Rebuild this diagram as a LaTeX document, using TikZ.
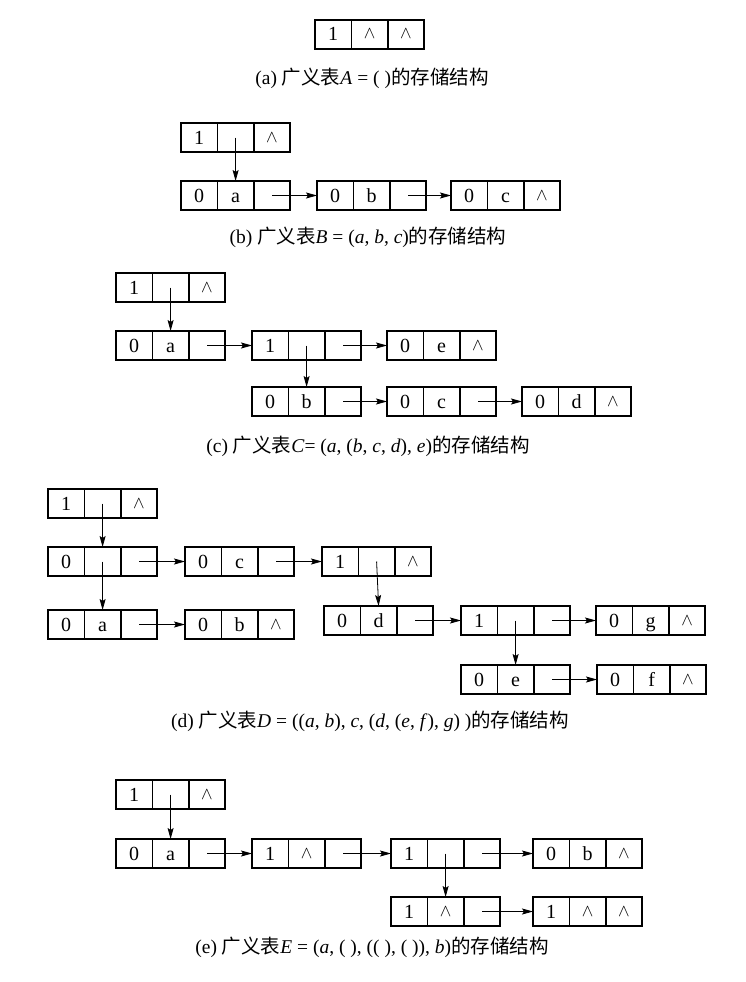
\documentclass[tikz,border=0pt]{standalone}
\usepackage{fontspec}
\setmainfont{Liberation Serif}
\newfontfamily\cjk{Noto Sans CJK SC}
\usetikzlibrary{positioning,arrows.meta}

% empty pointer sign
\newcommand{\NIL}{\raisebox{2pt}{\fontsize{18}{18}\selectfont$\wedge$}}
% one list node: name, left, top, tag, head, tail
\newcommand{\glnode}[6]{%
  \node[cell,anchor=north west] (#1t) at (#2,#3) {#4};
  \node[cell,right=0pt of #1t] (#1m) {#5};
  \node[cell,right=0pt of #1m] (#1n) {#6};}

\tikzset{
  cell/.style={draw,line width=1.6pt,minimum width=36.4pt,minimum height=29pt,
    inner sep=0pt,outer sep=0pt,text height=13pt,text depth=0pt,
    font=\fontsize{20}{20}\selectfont},
  ptr/.style={line width=0.8pt,-{Stealth[length=11pt,width=6pt,inset=2pt]}},
  figcap/.style={font=\fontsize{19.5}{19.5}\selectfont,inner sep=0pt}
}

\begin{document}
\begin{tikzpicture}[x=1pt,y=1pt,yscale=-1,xscale=1]
\useasboundingbox (0,0) rectangle (746,982);

%Shape: List A
\glnode{A}{315}{20}{1}{\NIL}{\NIL}
% Text Node
\node[figcap] (capA) at (372,78) {(a) {\cjk 广义表}\textit{A} = ( ){\cjk 的存储结构}};

%Shape: List B
\glnode{B0}{181}{123}{1}{}{\NIL}
\glnode{B1}{181}{181}{0}{a}{}
\glnode{B2}{317}{181}{0}{b}{}
\glnode{B3}{451}{181}{0}{c}{\NIL}
\draw[ptr] (B0m.center) -- (B1m.north);
\draw[ptr] (B1n.center) -- (B2t.west);
\draw[ptr] (B2n.center) -- (B3t.west);
% Text Node
\node[figcap] (capB) at (368,237) {(b) {\cjk 广义表}\textit{B} = (\textit{a}, \textit{b}, \textit{c}){\cjk 的存储结构}};

%Shape: List C
\glnode{C0}{116}{273}{1}{}{\NIL}
\glnode{C1}{116}{331}{0}{a}{}
\glnode{C2}{252}{331}{1}{}{}
\glnode{C3}{387}{331}{0}{e}{\NIL}
\glnode{C4}{252}{387}{0}{b}{}
\glnode{C5}{387}{387}{0}{c}{}
\glnode{C6}{522}{387}{0}{d}{\NIL}
\draw[ptr] (C0m.center) -- (C1m.north);
\draw[ptr] (C1n.center) -- (C2t.west);
\draw[ptr] (C2n.center) -- (C3t.west);
\draw[ptr] (C2m.center) -- (C4m.north);
\draw[ptr] (C4n.center) -- (C5t.west);
\draw[ptr] (C5n.center) -- (C6t.west);
% Text Node
\node[figcap] (capC) at (368,446) {(c) {\cjk 广义表}\textit{C}= (\textit{a}, (\textit{b}, \textit{c}, \textit{d}), \textit{e}){\cjk 的存储结构}};

%Shape: List D
\glnode{D0}{48}{489}{1}{}{\NIL}
\glnode{D1}{48}{547}{0}{}{}
\glnode{D2}{185}{547}{0}{c}{}
\glnode{D3}{322}{547}{1}{}{\NIL}
\glnode{D5}{48}{610}{0}{a}{}
\glnode{D6}{185}{610}{0}{b}{\NIL}
\glnode{D4}{324}{606}{0}{d}{}
\glnode{D7}{461}{606}{1}{}{}
\glnode{D8}{596}{606}{0}{g}{\NIL}
\glnode{D9}{461}{665}{0}{e}{}
\glnode{D10}{597}{665}{0}{f}{\NIL}
\draw[ptr] (D0m.center) -- (D1m.north);
\draw[ptr] (D1n.center) -- (D2t.west);
\draw[ptr] (D2n.center) -- (D3t.west);
\draw[ptr] (D1m.center) -- (D5m.north);
\draw[ptr] (D5n.center) -- (D6t.west);
\draw[ptr] (D3m.center) -- (D4m.north);
\draw[ptr] (D4n.center) -- (D7t.west);
\draw[ptr] (D7n.center) -- (D8t.west);
\draw[ptr] (D7m.center) -- (D9m.north);
\draw[ptr] (D9n.center) -- (D10t.west);
% Text Node
\node[figcap] (capD) at (370,721) {(d) {\cjk 广义表}\textit{D} = ((\textit{a}, \textit{b}), \textit{c}, (\textit{d}, (\textit{e}, \textit{f}), \textit{g}) ){\cjk 的存储结构}};

%Shape: List E
\glnode{E0}{116}{780}{1}{}{\NIL}
\glnode{E1}{116}{839}{0}{a}{}
\glnode{E2}{252}{839}{1}{\NIL}{}
\glnode{E3}{391}{839}{1}{}{}
\glnode{E4}{533}{839}{0}{b}{\NIL}
\glnode{E5}{391}{897}{1}{\NIL}{}
\glnode{E6}{533}{897}{1}{\NIL}{\NIL}
\draw[ptr] (E0m.center) -- (E1m.north);
\draw[ptr] (E1n.center) -- (E2t.west);
\draw[ptr] (E2n.center) -- (E3t.west);
\draw[ptr] (E3n.center) -- (E4t.west);
\draw[ptr] (E3m.center) -- (E5m.north);
\draw[ptr] (E5n.center) -- (E6t.west);
% Text Node
\node[figcap] (capE) at (372,947) {(e) {\cjk 广义表}\textit{E} = (\textit{a}, ( ), (( ), ( )), \textit{b}){\cjk 的存储结构}};

\end{tikzpicture}
\end{document}
